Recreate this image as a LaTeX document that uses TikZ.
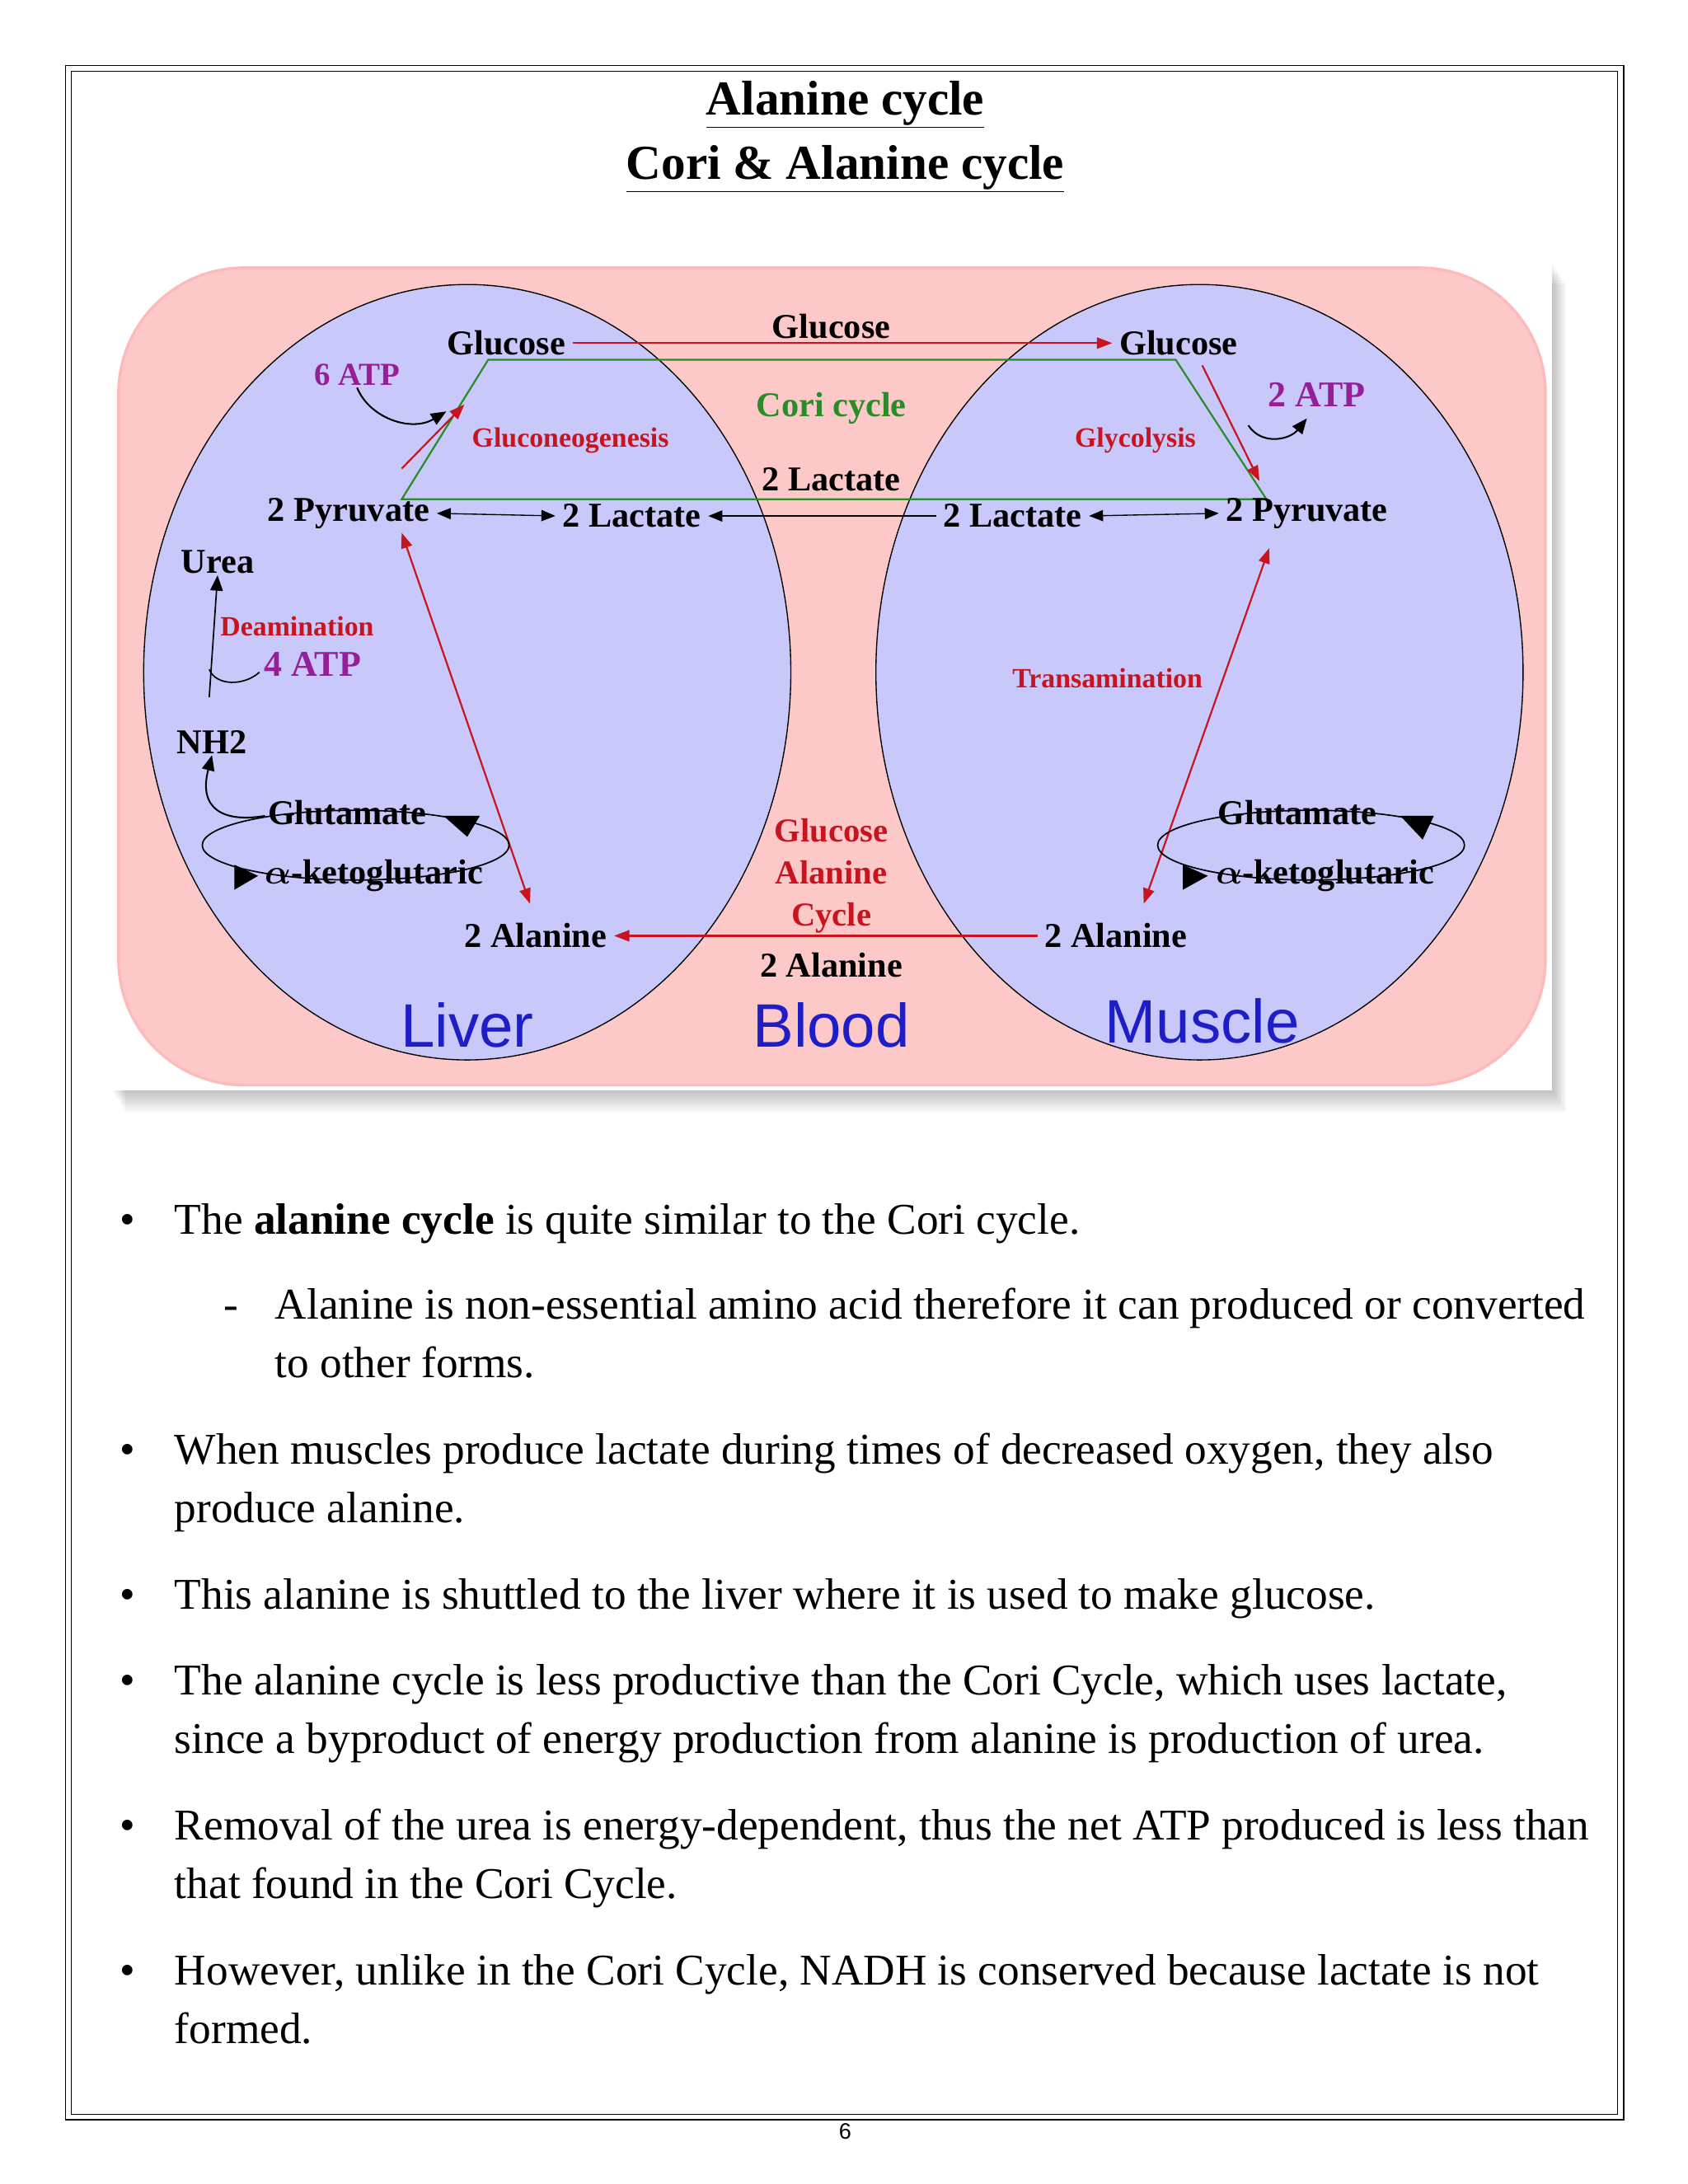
\documentclass[tikz,border=0pt]{standalone}
\usepackage{fontspec}
\setmainfont{Liberation Serif}
\setsansfont{Liberation Sans}
\usetikzlibrary{arrows.meta,shadows}
\definecolor{pinkbg}{RGB}{252,200,200}
\definecolor{lav}{RGB}{200,200,250}
\definecolor{dred}{RGB}{200,20,30}
\definecolor{purp}{RGB}{150,30,150}
\definecolor{gr}{RGB}{40,140,40}
\definecolor{bl}{RGB}{30,30,200}
\tikzset{
 lab/.style={font=\fontsize{25}{27}\selectfont\bfseries\boldmath,inner sep=1pt},
 rlab/.style={font=\fontsize{20}{22}\selectfont\bfseries,text=dred,inner sep=1pt,align=center},
 plab/.style={font=\fontsize{23}{25}\selectfont\bfseries,text=purp,inner sep=1pt},
 big/.style={font=\fontsize{44}{48}\selectfont\sffamily,text=bl},
 body/.style={font=\fontsize{31.5}{42}\selectfont,anchor=base west,inner sep=0},
 redarr/.style={dred,line width=1.3pt,shorten >=4pt,shorten <=4pt,-{Triangle[length=11pt,width=8pt]}},
 dbl/.style={black,line width=0.8pt,shorten >=4pt,shorten <=4pt,{Triangle[length=10pt,width=8pt]}-{Triangle[length=10pt,width=8pt]}},
 blkarr/.style={black,line width=1.2pt,-{Triangle[length=11pt,width=9pt]}},
}
\begin{document}
\begin{tikzpicture}[x=1pt,y=-1pt]
\useasboundingbox (0,0) rectangle (1210,1566);
\fill[white] (0,0) rectangle (1210,1566);
\draw[line width=1pt] (47,47) rectangle (1164,1520);
\draw[line width=0.6pt] (51,51) rectangle (1160,1516);
\node[font=\fontsize{35}{38}\selectfont\bfseries] (t1) at (606,75) {\underline{Alanine cycle}};
\node[font=\fontsize{35}{38}\selectfont\bfseries] (t2) at (606,121) {\underline{Cori \& Alanine cycle}};
% figure
\foreach \i in {1,...,10} {\fill[black,opacity=0.025] (80+\i,188+1.6*\i) rectangle (1113+\i,782+1.6*\i);}
\fill[white] (80,188) rectangle (1113,782);
\draw[pinkbg!70!red!60,line width=2pt,fill=pinkbg,rounded corners=90pt] (85,192) rectangle (1108,778);
\draw[fill=lav,line width=0.8pt] (335,482) ellipse [x radius=232,y radius=278];
\draw[fill=lav,line width=0.8pt] (860,482) ellipse [x radius=232,y radius=278];
\draw[gr,line width=1.3pt] (350,258) -- (843,258) -- (908,358) -- (288,358) -- cycle;
\node[lab] (lglu) at (363,246) {Glucose};
\node[lab] (mglu) at (845,246) {Glucose};
\node[lab] (bglu) at (596,234) {Glucose};
\node[lab] (lpyr) at (250,368) {2 Pyruvate};
\node[lab] (llac) at (453,370) {2 Lactate};
\node[lab] (mlac) at (726,370) {2 Lactate};
\node[lab] (mpyr) at (937,368) {2 Pyruvate};
\node[lab] (blac) at (596,344) {2 Lactate};
\node[lab,text=gr] (cori) at (596,293) {Cori cycle};
\node[rlab] (gng) at (409,316) {Gluconeogenesis};
\node[rlab] (gly) at (814,316) {Glycolysis};
\node[plab] (atp6) at (256,269) {6 ATP};
\node[plab,font=\fontsize{26}{28}\selectfont\bfseries] (atp2) at (944,283) {2 ATP};
\node[lab] (urea) at (156,403) {Urea};
\node[rlab] (deam) at (213,449) {Deamination};
\node[plab,font=\fontsize{26}{28}\selectfont\bfseries] (atp4) at (224,476) {4 ATP};
\node[lab] (nh2) at (152,532) {NH2};
\node[lab] (lglut) at (249,583) {Glutamate};
\node[lab] (lakg) at (268,628) {$\alpha$-ketoglutaric};
\node[lab] (mglut) at (930,583) {Glutamate};
\node[lab] (makg) at (950,628) {$\alpha$-ketoglutaric};
\node[lab] (lala) at (384,671) {2 Alanine};
\node[lab] (mala) at (800,671) {2 Alanine};
\node[lab] (bala) at (596,692) {2 Alanine};
\node[rlab,font=\fontsize{24}{30}\selectfont\bfseries] (gac) at (596,628) {Glucose\\Alanine\\Cycle};
\node[rlab] (trans) at (794,486) {Transamination};
\node[big] (liver) at (335,735) {Liver};
\node[big] (blood) at (596,735) {Blood};
\node[big] (muscle) at (862,732) {Muscle};
% arrows
\draw[redarr] (lglu.east) -- (mglu.west);
\draw[redarr,black,line width=0.8pt,-{Triangle[length=10pt,width=8pt]}] (mlac.west) -- (llac.east);
\draw[dbl] (lpyr.east) -- (llac.west);
\draw[dbl] (mlac.east) -- (mpyr.west);
\draw[redarr,shorten <=0pt,shorten >=0pt] (288,336) -- (333,290);
\draw[redarr,shorten <=0pt,shorten >=0pt] (862,262) -- (903,345);
\draw[redarr,shorten <=0pt,shorten >=0pt,{Triangle[length=11pt,width=8pt]}-{Triangle[length=11pt,width=8pt]}] (288,382) -- (380,648);
\draw[redarr,shorten <=0pt,shorten >=0pt,{Triangle[length=11pt,width=8pt]}-{Triangle[length=11pt,width=8pt]}] (910,393) -- (820,648);
\draw[redarr] (mala.west) -- (lala.east);
\draw[blkarr] (atp6.south) .. controls (265,300) and (295,310) .. (320,295);
\draw[blkarr] (895,305) .. controls (905,320) and (925,315) .. (937,300);
\draw[blkarr,line width=1pt] (150,500) -- (urea.south);
\draw[line width=1pt] (186,482) .. controls (175,492) and (155,492) .. (150,480);
\draw[blkarr] (190,585) .. controls (160,590) and (142,580) .. (nh2.south);
\draw[line width=1pt] (255,606) ellipse [x radius=110,y radius=25];
\draw[line width=1pt] (940,606) ellipse [x radius=110,y radius=25];
\fill (318,585) -- (344,585) -- (335,600) -- cycle;
\fill (168,620) -- (168,638) -- (185,628) -- cycle;
\fill (1004,585) -- (1028,585) -- (1020,602) -- cycle;
\fill (848,620) -- (848,638) -- (866,628) -- cycle;
% body text
\foreach \y/\t in {875/{The \textbf{alanine cycle} is quite similar to the Cori cycle.},
 1040/{When muscles produce lactate during times of decreased oxygen, they also},
 1144/{This alanine is shuttled to the liver where it is used to make glucose.},
 1205/{The alanine cycle is less productive than the Cori Cycle, which uses lactate,},
 1309/{Removal of the urea is energy-dependent, thus the net ATP produced is less than},
 1413/{However, unlike in the Cori Cycle, NADH is conserved because lactate is not}}
 {\node[body] at (86,\y+10) {\textbullet}; \node[body] at (125,\y+10) {\t};}
\node[body] (d1) at (160,946) {-};
\node[body] (l1) at (197,946) {Alanine is non-essential amino acid therefore it can produced or converted};
\node[body] (l2) at (197,988) {to other forms.};
\node[body] (l3) at (125,1092) {produce alanine.};
\node[body] (l4) at (125,1257) {since a byproduct of energy production from alanine is production of urea.};
\node[body] (l5) at (125,1361) {that found in the Cori Cycle.};
\node[body] (l6) at (125,1465) {formed.};
\node[font=\fontsize{16}{18}\selectfont\sffamily] (pg) at (606,1528) {6};
\end{tikzpicture}
\end{document}
